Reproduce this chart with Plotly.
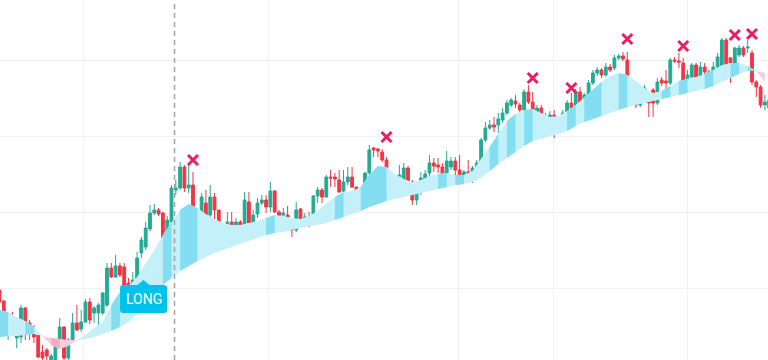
import plotly.graph_objects as go

# ---------------- data (price units, candle index on x) ----------------
open_ = [70,59,38,40,22,23,52,37,31,25,8,10,0,0,20,33,2,20,37,31,
         38,58,47,47,47,55,92,83,94,93,77,73,80,107,113,131,147,150,147,120,
         138,170,172,193,172,175,143,143,157,145,163,150,118,122,138,133,138,128,158,137,
         146,157,160,153,169,148,145,145,136,130,151,138,143,142,164,170,163,183,183,180,
         169,178,183,173,155,158,187,212,211,208,200,175,170,172,175,192,178,160,168,181,
         187,197,195,193,187,193,199,190,182,188,182,192,198,220,232,235,235,240,247,255,
         259,255,250,268,258,248,252,243,237,245,230,235,247,257,252,268,257,265,277,287,
         290,285,293,292,302,304,300,280,270,255,263,265,270,257,280,279,277,300,299,297,
         277,283,295,280,293,288,278,293,293,320,302,297,305,312,312,307,278,273,255,260]
close_ = [58,38,40,30,24,52,35,30,23,3,2,4,4,18,33,2,20,37,30,38,
          58,40,52,55,67,92,83,94,85,75,68,80,102,120,132,147,150,146,122,140,
          172,172,193,172,175,143,133,163,145,163,150,118,123,138,133,138,128,160,137,145,
          157,160,153,169,148,144,147,137,130,150,137,143,142,164,170,163,183,182,181,168,
          178,183,173,155,158,187,210,210,209,200,175,168,172,185,192,178,160,168,182,186,
          197,194,193,180,199,199,190,177,188,187,192,197,220,232,235,233,241,247,257,260,
          256,250,268,258,248,252,243,237,245,230,237,247,257,252,268,257,265,277,287,290,
          285,293,290,302,304,301,278,270,255,272,272,257,257,278,277,277,300,299,298,277,
          285,295,280,293,288,278,293,303,320,293,297,312,312,305,313,278,273,255,258,252]
high_ = [85,60,43,48,27,55,53,40,35,27,15,12,6,20,42,34,22,47,55,50,
         61,62,54,57,68,97,97,105,97,97,82,88,108,123,138,155,156,152,148,144,
         175,180,198,195,195,188,145,167,170,175,167,150,130,148,148,142,140,168,168,150,
         162,165,165,178,170,150,152,154,138,158,152,147,148,165,173,172,185,190,187,190,
         190,193,193,173,160,188,215,213,212,211,203,180,175,195,197,194,180,172,188,190,
         205,202,202,197,209,203,203,205,190,200,194,200,222,238,240,243,247,252,260,262,
         265,257,271,275,268,255,255,247,249,250,240,250,260,267,271,273,267,280,290,293,
         292,297,296,305,306,308,308,282,272,275,275,268,272,282,283,290,302,303,307,302,
         290,297,297,298,297,290,298,307,322,322,303,313,315,314,320,310,280,275,265,263]
low_ = [57,37,20,27,12,17,20,20,17,2,-2,0,-2,-2,17,0,0,18,29,28,
        37,36,37,35,45,53,82,82,83,70,62,64,75,102,110,129,145,144,120,118,
        136,165,170,168,167,140,118,140,137,143,140,112,115,120,130,128,126,126,135,134,
        142,155,147,148,147,143,130,135,123,128,135,133,133,140,157,157,162,173,173,167,
        168,175,172,151,150,157,185,203,203,198,170,165,165,162,173,173,155,155,165,178,
        183,188,187,177,180,190,185,175,180,183,177,190,197,218,230,228,227,237,245,253,
        252,242,248,256,243,246,240,228,233,222,227,233,245,250,250,250,255,263,275,284,
        282,283,288,290,300,299,275,262,252,253,260,243,243,255,274,268,275,297,292,273,
        270,282,270,278,273,276,276,292,292,280,277,295,303,303,307,275,263,252,250,250]
candle_idx = list(range(len(open_)))

# moving-average cloud, sampled every second candle
band_idx = list(range(0, 180, 2))
fast_ma = [50,48,43,39,33,24,15,11,14,20,25,32,38,55,68,74,83,97,110,125,
           138,150,156,152,146,141,137,135,135,137,139,142,145,144,142,141,144,149,157,163,
           168,169,173,185,194,193,186,181,178,180,184,186,187,185,185,189,201,213,226,239,
           246,250,251,247,243,244,249,255,263,271,278,284,287,285,279,272,267,269,274,279,
           281,283,286,290,295,297,297,294,289,278]
slow_ma = [23,24,24,25,26,24,22,21,20,20,21,23,26,29,33,38,46,56,65,75,
           82,89,94,99,103,107,110,113,116,119,122,125,127,128,130,132,134,135,137,140,
           143,146,149,153,156,159,161,163,165,167,169,171,173,175,176,178,182,189,196,202,
           208,214,219,221,224,226,229,234,238,241,244,247,250,253,255,257,259,261,263,265,
           267,269,271,274,278,282,286,289,289,287]
bull_spans = [(0, 10), (18, 176)]
bear_spans = [(10, 18), (176, 178)]
strong_bull_spans = [(0, 2), (6, 8), (26, 28), (38, 40), (42, 46), (62, 64), (78, 80),
                     (84, 90), (102, 104), (106, 108), (114, 116), (118, 120), (122, 124),
                     (132, 134), (136, 140), (144, 146), (154, 156), (158, 160),
                     (164, 166), (170, 172), (174, 176)]
strong_bear_spans = [(12, 14)]

exit_idx = [45, 90, 124, 133, 146, 159, 171, 175]
exit_price = [200, 223, 282, 272, 321, 314, 325, 326]

long_idx = 33.5
long_tip = 80
long_text = "LONG"
signal_line_idx = 40.7

grid_x = [19.5, 62.6, 106.7, 128.8, 160.0]
grid_y = [72, 148, 224, 300]

# ---------------- styling ----------------
GREEN = "#22ab94"
RED = "#f23645"
CYAN_L = "#c4f1f9"
CYAN_D = "#82def0"
PINK_L = "#f9cddb"
PINK_D = "#f4abc4"
LABEL_BG = "#00c2ea"
X_COL = "#e91e63"
PX = 4.3  # pixels per candle

fig = go.Figure()


def add_band(a, b, color):
    xs = [j for j in band_idx if a <= j <= b]
    lo = [slow_ma[band_idx.index(j)] for j in xs]
    hi = [fast_ma[band_idx.index(j)] for j in xs]
    fig.add_trace(go.Scatter(x=xs, y=lo, mode="lines", line=dict(width=0),
                             hoverinfo="skip", showlegend=False))
    fig.add_trace(go.Scatter(x=xs, y=hi, mode="lines", line=dict(width=0),
                             fill="tonexty", fillcolor=color,
                             hoverinfo="skip", showlegend=False))


for a, b in bull_spans:
    add_band(a, b, CYAN_L)
for a, b in bear_spans:
    add_band(a, b, PINK_L)
for a, b in strong_bull_spans:
    add_band(a, b, CYAN_D)
for a, b in strong_bear_spans:
    add_band(a, b, PINK_D)

fig.add_trace(go.Candlestick(
    x=candle_idx, open=open_, high=high_, low=low_, close=close_,
    increasing=dict(line=dict(color=GREEN, width=1), fillcolor=GREEN),
    decreasing=dict(line=dict(color=RED, width=1), fillcolor=RED),
    whiskerwidth=0, hoverinfo="skip", showlegend=False))

fig.add_trace(go.Scatter(
    x=exit_idx, y=exit_price, mode="markers",
    marker=dict(symbol="x-thin", size=10, line=dict(color=X_COL, width=3)),
    hoverinfo="skip", showlegend=False))

# signal line
fig.add_shape(type="line", x0=signal_line_idx, x1=signal_line_idx, yref="paper",
              y0=0, y1=1, line=dict(color="#a3a3a3", width=1.5, dash="5px,4px"))

# LONG label (rounded box with a pointer)
w, h, t, r, tw = 47 / PX, 28, 5, 3, 6 / PX
rx = r / PX
x0, x1 = long_idx - w / 2, long_idx + w / 2
ytop = long_tip - t
ybot = ytop - h
path = (f"M {x0+rx},{ytop} L {long_idx-tw},{ytop} L {long_idx},{long_tip} "
        f"L {long_idx+tw},{ytop} L {x1-rx},{ytop} Q {x1},{ytop} {x1},{ytop-r} "
        f"L {x1},{ybot+r} Q {x1},{ybot} {x1-rx},{ybot} L {x0+rx},{ybot} "
        f"Q {x0},{ybot} {x0},{ybot+r} L {x0},{ytop-r} Q {x0},{ytop} {x0+rx},{ytop} Z")
fig.add_shape(type="path", path=path, fillcolor=LABEL_BG, line=dict(width=0))
fig.add_annotation(x=long_idx, y=(ytop + ybot) / 2, text=long_text, showarrow=False,
                   font=dict(family="Roboto, Arial, sans-serif", size=14, color="white"))

fig.update_layout(
    width=768, height=360, autosize=False,
    margin=dict(l=0, r=0, t=0, b=0),
    paper_bgcolor="white", plot_bgcolor="white",
    boxgap=0.35, boxgroupgap=0,
    xaxis=dict(range=[0.5 / PX, 768.5 / PX], tickvals=grid_x, showticklabels=False,
               showgrid=True, gridcolor="#eef1f6", gridwidth=1, zeroline=False,
               showline=False, ticks="", rangeslider=dict(visible=False), fixedrange=True),
    yaxis=dict(range=[0, 360], tickvals=grid_y, showticklabels=False,
               showgrid=True, gridcolor="#eef1f6", gridwidth=1, zeroline=False,
               showline=False, ticks="", fixedrange=True),
)

fig.write_html("out.html", config={"displayModeBar": False},
               post_script="document.body.style.margin='0';document.body.style.overflow='hidden';")
